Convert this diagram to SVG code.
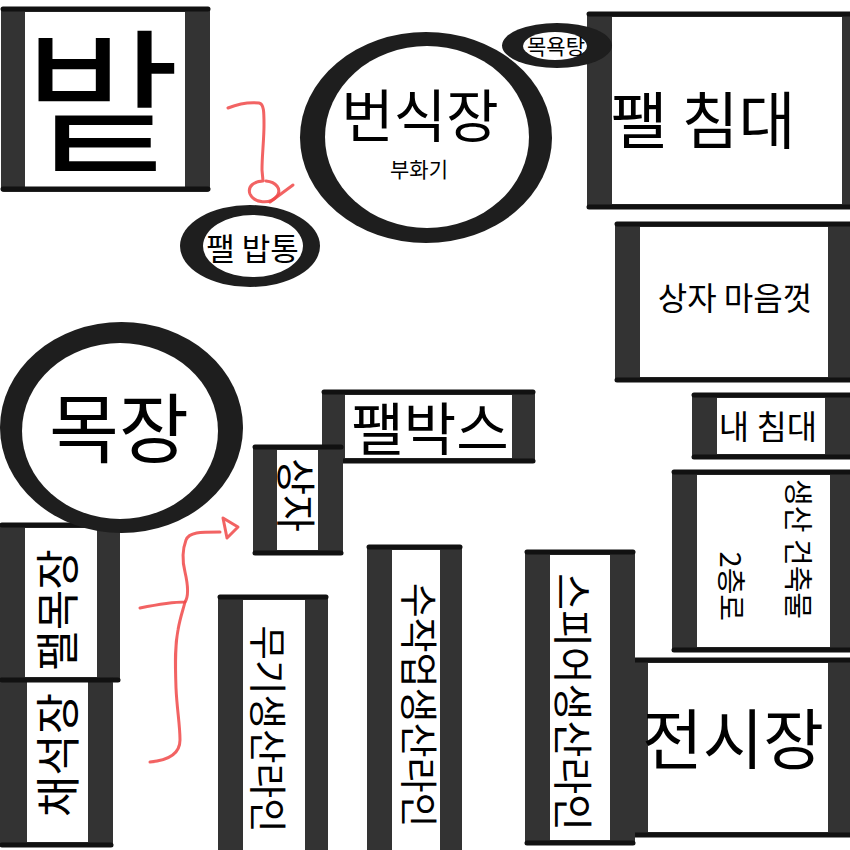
<svg xmlns="http://www.w3.org/2000/svg" width="850" height="850" viewBox="0 0 850 850">
<style>
.frame{fill:#333}
.inner{fill:#fff}
.edge{stroke:#111;stroke-width:5;stroke-linecap:round}
.ring{fill:#1e1e1e}
.hole{fill:#fff}
text{font-family:"Noto Sans CJK KR","Noto Sans",sans-serif;fill:#000;text-anchor:middle;dominant-baseline:central}
.red{fill:none;stroke:#f04848;stroke-width:3;stroke-linecap:round;stroke-linejoin:round;opacity:0.85}
</style>
<rect width="850" height="850" fill="#fff"/>

<g id="field">
<rect class="frame" x="1" y="7" width="209" height="185" rx="3"/>
<rect class="inner" x="25" y="12" width="160" height="175"/>
<line class="edge" x1="3" y1="9" x2="208" y2="9"/><line class="edge" x1="3" y1="189" x2="208" y2="189"/>
<text transform="translate(102 92) scale(1.09 1)" font-size="156">밭</text>
</g>

<g id="pal-bed">
<rect class="frame" x="587" y="12" width="265" height="197" rx="3"/>
<rect class="inner" x="612" y="17" width="230" height="187"/>
<line class="edge" x1="589" y1="14" x2="852" y2="14"/><line class="edge" x1="589" y1="207" x2="852" y2="207"/>
<text x="703" y="117" font-size="62">팰 침대</text>
</g>

<g id="box-area">
<rect class="frame" x="615" y="222" width="237" height="160" rx="3"/>
<rect class="inner" x="640" y="227" width="188" height="150"/>
<line class="edge" x1="617" y1="224" x2="852" y2="224"/><line class="edge" x1="617" y1="380" x2="852" y2="380"/>
<text x="735" y="296" font-size="32">상자 마음껏</text>
</g>

<g id="my-bed">
<rect class="frame" x="692" y="393" width="160" height="66" rx="3"/>
<rect class="inner" x="717" y="398" width="108" height="56"/>
<line class="edge" x1="694" y1="395" x2="852" y2="395"/><line class="edge" x1="694" y1="457" x2="852" y2="457"/>
<text x="768" y="425" font-size="33">내 침대</text>
</g>

<g id="production">
<rect class="frame" x="672" y="470" width="180" height="182" rx="3"/>
<rect class="inner" x="697" y="475" width="133" height="172"/>
<line class="edge" x1="674" y1="472" x2="852" y2="472"/><line class="edge" x1="674" y1="650" x2="852" y2="650"/>
<g transform="translate(800 0) rotate(90)">
<text x="619" y="0" font-size="29" style="text-anchor:end">생산 건축물</text>
<text x="621" y="67" font-size="29" style="text-anchor:end">2층로</text>
</g>
</g>

<g id="display">
<rect class="frame" x="623" y="658" width="229" height="179" rx="3"/>
<rect class="inner" x="648" y="663" width="180" height="169"/>
<line class="edge" x1="625" y1="660" x2="852" y2="660"/><line class="edge" x1="625" y1="835" x2="852" y2="835"/>
<text x="733" y="735" font-size="66">전시장</text>
</g>

<g id="spear-line">
<rect class="frame" x="525" y="550" width="110" height="295" rx="3"/>
<rect class="inner" x="550" y="555" width="60" height="285"/>
<line class="edge" x1="527" y1="552" x2="633" y2="552"/><line class="edge" x1="527" y1="843" x2="633" y2="843"/>
<text transform="translate(575 702) rotate(90)" font-size="40">스피어생산라인</text>
</g>

<g id="handiwork-line">
<rect class="frame" x="367" y="545" width="95" height="310" rx="3"/>
<rect class="inner" x="392" y="550" width="48" height="305"/>
<line class="edge" x1="369" y1="547" x2="460" y2="547"/>
<text transform="translate(421 705) rotate(90)" font-size="38">수작업생산라인</text>
</g>

<g id="weapon-line">
<rect class="frame" x="218" y="595" width="110" height="260" rx="3"/>
<rect class="inner" x="243" y="600" width="62" height="255"/>
<line class="edge" x1="220" y1="597" x2="326" y2="597"/>
<text transform="translate(270 729) rotate(90)" font-size="37.5">무기생산라인</text>
</g>

<g id="palbox">
<rect class="frame" x="322" y="390" width="213" height="73" rx="3"/>
<rect class="inner" x="345" y="395" width="167" height="63"/>
<line class="edge" x1="324" y1="392" x2="533" y2="392"/><line class="edge" x1="324" y1="461" x2="533" y2="461"/>
<text x="430" y="425" font-size="57">팰박스</text>
</g>

<g id="chest">
<rect class="frame" x="253" y="445" width="90" height="110" rx="3"/>
<rect class="inner" x="277" y="450" width="41" height="100"/>
<line class="edge" x1="255" y1="447" x2="341" y2="447"/><line class="edge" x1="255" y1="553" x2="341" y2="553"/>
<text transform="translate(298 495) rotate(90)" font-size="40">상자</text>
</g>

<g id="pal-ranch">
<rect class="frame" x="0" y="523" width="120" height="159" rx="3"/>
<rect class="inner" x="25" y="528" width="72" height="149"/>
<line class="edge" x1="2" y1="525" x2="118" y2="525"/><line class="edge" x1="2" y1="680" x2="118" y2="680"/>
<text transform="translate(55 610) rotate(-90)" font-size="44">팰목장</text>
</g>

<g id="quarry">
<rect class="frame" x="0" y="677" width="113" height="170" rx="3"/>
<rect class="inner" x="27" y="682" width="61" height="160"/>
<line class="edge" x1="2" y1="680" x2="111" y2="680"/><line class="edge" x1="2" y1="845" x2="111" y2="845"/>
<text transform="translate(55 755) rotate(-90)" font-size="45">채석장</text>
</g>

<g id="ranch">
<ellipse class="ring" cx="121.5" cy="427.5" rx="121.5" ry="105.5"/>
<ellipse class="hole" cx="120" cy="431" rx="98" ry="88"/>
<text x="119" y="424" font-size="76">목장</text>
</g>

<g id="breeding">
<ellipse class="ring" cx="426" cy="137.5" rx="126" ry="105.5"/>
<ellipse class="hole" cx="427" cy="137" rx="102" ry="91"/>
<text x="420" y="112" font-size="57">번식장</text>
<text x="419" y="168" font-size="21">부화기</text>
</g>

<g id="bath">
<ellipse class="ring" cx="557" cy="45.5" rx="55" ry="22.5"/>
<ellipse class="hole" cx="555" cy="46" rx="32" ry="14"/>
<text x="556" y="45" font-size="21">목욕탕</text>
</g>

<g id="feed-box">
<ellipse class="ring" cx="250" cy="246" rx="70" ry="41"/>
<ellipse class="hole" cx="253" cy="246" rx="50" ry="31"/>
<text x="252.5" y="246" font-size="31">팰 밥통</text>
</g>

<g id="connectors">
<path class="red" d="M228,108 C238,104 250,102 259,103 C264,104 264,112 264,125 C264,140 262,155 262,170 L263,181 C255,181 247,186 250,194 C254,203 270,205 277,196 C282,189 276,182 266,181"/>
<path class="red" d="M270,202 L293,185"/>
<path class="red" d="M140,608 C155,605 172,602 185,602 C189,596 188,585 185,572 C182,560 183,548 186,540 C189,532 200,532 220,532"/>
<path class="red" d="M223,518 L238,527 L227,538 Z"/>
<path class="red" d="M185,602 C183,610 180,618 178,630 C175,645 175,660 176,688 C177,710 180,725 180,740 C180,752 172,760 150,762"/>
</g>
</svg>
